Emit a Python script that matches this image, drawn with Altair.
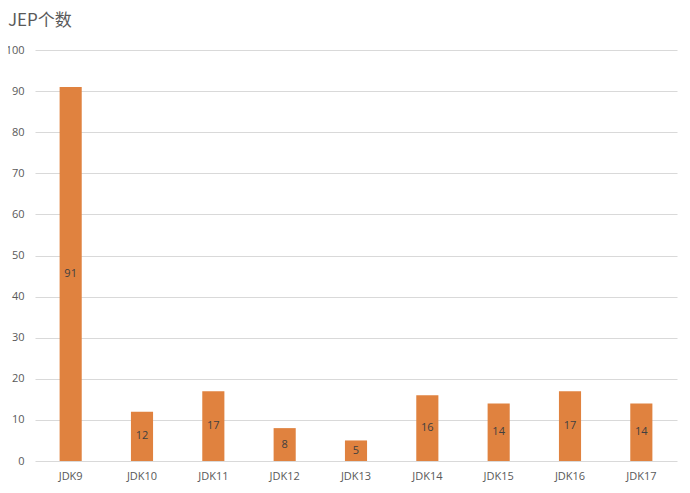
import altair as alt
import pandas as pd

categories = ["JDK9", "JDK10", "JDK11", "JDK12", "JDK13", "JDK14", "JDK15", "JDK16", "JDK17"]
values = [91, 12, 17, 8, 5, 16, 14, 17, 14]
y_ticks = [0, 10, 20, 30, 40, 50, 60, 70, 80, 90, 100]

df = pd.DataFrame({"jdk": categories, "count": values})

font = "Open Sans"

base = alt.Chart(df).encode(
    x=alt.X("jdk:N", sort=categories,
            scale=alt.Scale(paddingInner=0.69, paddingOuter=0.345),
            axis=alt.Axis(title=None, labelAngle=0, ticks=False, domain=False,
                          labelPadding=9, labelFontSize=11, labelColor="#595959",
                          labelFont=font, grid=False)),
)

bars = base.mark_bar(color="#E0823F").encode(
    y=alt.Y("count:Q", scale=alt.Scale(domain=[0, 100], nice=False),
            axis=alt.Axis(title=None, values=y_ticks, ticks=False, domain=False,
                          labelPadding=11, labelFontSize=11, labelColor="#595959",
                          labelFont=font, gridColor="#d9d9d9", gridWidth=1)),
)

labels = base.transform_calculate(mid="datum.count / 2").mark_text(
    fontSize=11, color="#404040", font=font, baseline="middle"
).encode(
    y=alt.Y("mid:Q", scale=alt.Scale(domain=[0, 100], nice=False)),
    text="count:Q",
)

chart = (bars + labels).properties(
    width=642, height=411,
    background="white",
    title=alt.TitleParams("JEP个数", anchor="start", align="left", frame="group",
                          fontSize=17, fontWeight="normal",
                          color="#595959", font="Noto Sans CJK SC", offset=14, dx=-27),
    autosize="none",
    padding={"left": 27, "top": 42, "right": 5, "bottom": 30},
).configure_view(strokeWidth=0)

chart.save("out.html", embed_options={"renderer": "svg", "actions": False})
